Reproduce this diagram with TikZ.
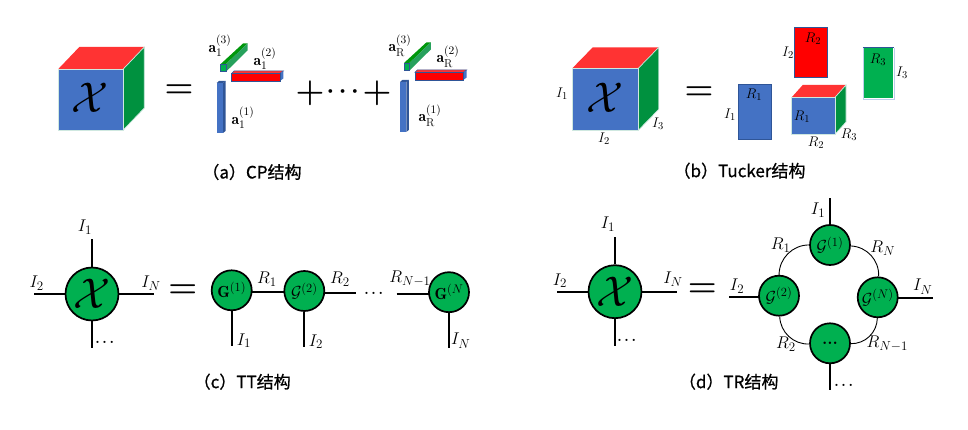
\documentclass[tikz,border=0pt]{standalone}
\usepackage{fix-cm}
\usepackage{amsmath,amssymb}
\usepackage{fontspec}
\newfontfamily\cjk[FakeBold=0.8]{Noto Sans CJK SC}
\usepackage{tikz}
\usetikzlibrary{
  positioning,
  calc,
  backgrounds
}
\usepackage{xcolor}
\definecolor{cubeblue}{HTML}{4472C4}
\definecolor{cubered}{HTML}{FF3333}
\definecolor{cubegreen}{HTML}{00913F}
\definecolor{coregreen}{HTML}{00B050}
\definecolor{edgeblue}{HTML}{2F5597}
\definecolor{edgelight}{HTML}{CFE8E0}
\DeclareMathSizes{14}{14}{10.5}{8}
\DeclareMathSizes{15.5}{15.5}{11.5}{9}
\DeclareMathSizes{16}{16}{12.5}{9}
\DeclareMathSizes{17}{17}{13}{10}
\newcommand{\tensorX}{\mathcal{X}}
\newcommand{\fs}[1]{\fontsize{#1}{#1}\selectfont}

\begin{document}
\begin{tikzpicture}[
  x=1pt, y=-1pt,
  lab/.style={inner sep=0, font=\fs{17}},
  smalllab/.style={inner sep=0, font=\fs{14}},
  vec/.style={inner sep=0, font=\fs{15.5}},
  dotlab/.style={inner sep=0, font=\fs{14}\boldmath},
  caption/.style={inner sep=0, font=\cjk\fs{17}},
  symb/.style={inner sep=0, font=\fs{33}\boldmath},
  core/.style={circle, draw=black, line width=1.7pt, fill=coregreen, minimum size=40pt, inner sep=0, font=\fs{16}},
  bigcore/.style={core, minimum size=53pt, font=\fs{43}},
  leg/.style={line width=1.7pt},
  ringline/.style={line width=0.9pt},
  matrect/.style={draw=edgeblue, line width=1pt, minimum width=#1, inner sep=0},
  cubeedge/.style={draw=edgelight, line width=0.7pt}
]
  \useasboundingbox (0,0) rectangle (968,430);

  % Cubes
  \foreach \x/\y/\w/\h/\dx/\dy in {58.3/69/65/61/21/22, 572.3/68.3/66/62/20.5/21, 791.7/97.3/43.3/37/11/12.3} {
    \fill[cubered] (\x,\y) -- ++(\dx,-\dy) -- ++(\w,0) -- ++(-\dx,\dy) -- cycle;
    \draw[cubeedge, fill=cubegreen] (\x+\w,\y) -- ++(\dx,-\dy) -- ++(0,\h) -- ++(-\dx,\dy) -- cycle;
    \draw[cubeedge, fill=cubeblue] (\x,\y) rectangle ++(\w,\h);
  }
  \node[inner sep=0, font=\fs{43}] (xa) at (90,98) {$\tensorX$};
  \node[inner sep=0, font=\fs{43}] (xb) at (605,98) {$\tensorX$};

  % CP bars
  \foreach \sx/\sy in {0/0, 183.3/-1} {
    \begin{scope}[shift={(\sx,\sy)}]
      \fill[green!60!black!80!cubegreen] (220.7,64) -- (226,64) -- (247.5,43.5) -- (243,43.5) -- cycle;
      \fill[cubegreen!85!white] (226,64) -- (247.5,43.5) -- (247.5,50.5) -- (226,71.7) -- cycle;
      \fill[coregreen, draw=edgeblue, line width=0.5pt] (220.7,64) rectangle (226,71.7);
      \fill[cubered, draw=edgeblue, line width=0.5pt] (231.7,73.3) -- (234,71) -- (283.3,71) -- (280,73.3) -- cycle;
      \fill[cubeblue] (280,73.3) -- (283.3,71) -- (283.3,78.5) -- (280,81) -- cycle;
      \fill[red, draw=edgeblue, line width=0.5pt] (231.7,73.3) rectangle (280,81);
      \fill[edgeblue] (216.7,83) -- (219,81) -- (225.5,81) -- (223,83) -- cycle;
      \fill[edgeblue] (223,83) -- (225.5,81) -- (225.5,131) -- (223,133) -- cycle;
      \fill[cubeblue] (216.7,83) rectangle (223,133);
    \end{scope}
  }

  % CP labels
  \foreach \n/\x/\y/\t in {a13/220/46/{\mathbf{a}_1^{(3)}}, a12/265/59/{\mathbf{a}_1^{(2)}}, a11/243/118/{\mathbf{a}_1^{(1)}},
      ar3/400/46/{\mathbf{a}_{\mathrm{R}}^{(3)}}, ar2/448/57/{\mathbf{a}_{\mathrm{R}}^{(2)}}, ar1/430/116/{\mathbf{a}_{\mathrm{R}}^{(1)}}} {
    \node[vec] (\n) at (\x,\y) {$\t$};
  }
  \node[symb] (eqa) at (179,91) {$=$};
  \node[symb] (pa) at (310,93) {$+$};
  \node[symb, font=\fs{24}\boldmath] (da) at (345,92) {$\cdots$};
  \node[symb] (pb) at (377,93) {$+$};
  \node[caption] (capa) at (252,172) {（a）CP结构};

  % Tucker factors
  \node[matrect=33pt, fill=cubeblue, minimum height=55pt] (ub) at (754.5,111.8) {};
  \node[matrect=32.7pt, fill=red, minimum height=49.6pt] (ur) at (811.3,52.5) {};
  \node[matrect=30pt, fill=coregreen, minimum height=50pt, draw=none] (ug) at (878.3,73.3) {};
  \draw[edgeblue, line width=1.2pt] (ug.north west) -- (ug.north east);
  \draw[cubeblue!35!white, line width=0.5pt] (ug.north east) -- (ug.south east) -- (ug.south west) -- (ug.north west);

  % Tucker labels
  \foreach \n/\x/\y/\t in {ti1/562/94/I_1, ti2/604/139/I_2, ti3/658/124/I_3, fr1/754/95/R_1, fi1/730/115/I_1,
      fr2/813/39/R_2, fi2/788/53/I_2, fr3/878/60/R_3, fi3/902/73/I_3, cr1/802/117/R_1, cr2/816/143/R_2, cr3/849/135/R_3} {
    \node[smalllab] (\n) at (\x,\y) {$\t$};
  }
  \node[symb] (eqb) at (699,93) {$=$};
  \node[caption] (capb) at (739.5,170.7) {（b）Tucker结构};

  % TT network
  \node[bigcore] (xc) at (92,294) {$\tensorX$};
  \node[core] (g1) at (231.7,290.3) {$\mathbf{G}^{(1)}$};
  \node[core] (g2) at (304.3,291) {$\mathcal{G}^{(2)}$};
  \node[core] (gn) at (449,292.2) {$\mathbf{G}^{(N}$};
  \coordinate (xcu) at (92,239.3);
  \coordinate (xcl) at (34,294);
  \coordinate (xcr) at (154,294);
  \coordinate (xcd) at (92,347.7);
  \coordinate (g1r) at (270,291.7);
  \coordinate (g2r) at (356,293.3);
  \coordinate (gnl) at (396.7,294.3);
  \coordinate (g1d) at (231.7,345.7);
  \coordinate (g2d) at (304.3,346.7);
  \coordinate (gnd) at (449,348);
  \begin{scope}[on background layer]
    \foreach \t in {xcu,xcl,xcr,xcd} {
      \draw[leg] (xc) -- (\t);
    }
    \draw[leg] (g1 |- g1r) -- (g2 |- g1r);
    \draw[leg] (g2 |- g2r) -- (g2r);
    \draw[leg] (gnl) -- (gn |- gnl);
    \foreach \i in {1,2,n} {
      \draw[leg] (g\i) -- (g\i d);
    }
  \end{scope}
  \foreach \n/\x/\y/\t in {c1/85/227/I_1, c2/36.7/283/I_2, c3/151/283/I_N, c4/267/279/R_1, c5/340/279/R_2,
      c6/410/279/R_{N-1}, c7/244/340.7/I_1, c8/316/341.7/I_2, c9/460.7/340.7/I_N} {
    \node[lab] (\n) at (\x,\y) {$\t$};
  }
  \node[dotlab] (c10) at (106,342) {$\dots$};
  \node[dotlab] (c11) at (375,293) {$\dots$};
  \node[symb] (eqc) at (182.7,291) {$=$};
  \node[caption] (capc) at (242.2,381.7) {（c）TT结构};

  % TR network
  \node[bigcore] (xd) at (615,291.7) {$\tensorX$};
  \node[core] (r1) at (830,245) {$\mathcal{G}^{(1)}$};
  \node[core] (r2) at (779,295.7) {$\mathcal{G}^{(2)}$};
  \node[core] (rn) at (877.7,297.3) {$\mathcal{G}^{(N)}$};
  \node[core, font=\bfseries\fs{17}] (rd) at (830,343.3) {...};
  \draw[ringline] (r1) to[bend right=45] (r2);
  \draw[ringline] (r2) to[bend right=45] (rd);
  \draw[ringline] (rd) to[bend right=45] (rn);
  \draw[ringline] (rn) to[bend right=45] (r1);
  \coordinate (xdu) at (615,236.7);
  \coordinate (xdl) at (556.7,291.7);
  \coordinate (xdr) at (676.7,291.7);
  \coordinate (xdd) at (615,345.7);
  \coordinate (r1u) at (830,198.3);
  \coordinate (r2l) at (729,297.3);
  \coordinate (rnr) at (933.3,298.3);
  \coordinate (rdd) at (830,390);
  \begin{scope}[on background layer]
    \foreach \t in {xdu,xdl,xdr,xdd} {
      \draw[leg] (xd) -- (\t);
    }
    \draw[leg] (r1) -- (r1u);
    \draw[leg] (r2 |- r2l) -- (r2l);
    \draw[leg] (rn |- rnr) -- (rnr);
    \draw[leg] (rd) -- (rdd);
  \end{scope}
  \foreach \n/\x/\y/\t in {d1/608/224/I_1, d2/560/280.7/I_2, d3/673/279.3/I_N, d4/818/210/I_1, d5/737/286/I_2,
      d6/922.7/286.7/I_N, d7/780.7/245/R_1, d8/882.7/248.3/R_N, d9/786/344/R_2, d10/887.3/343.3/R_{N-1}} {
    \node[lab] (\n) at (\x,\y) {$\t$};
  }
  \node[dotlab] (d11) at (628,340) {$\dots$};
  \node[dotlab] (d12) at (845,385) {$\dots$};
  \node[symb] (eqd) at (702.3,290.5) {$=$};
  \node[caption] (capd) at (728.7,381.7) {（d）TR结构};
\end{tikzpicture}
\end{document}
